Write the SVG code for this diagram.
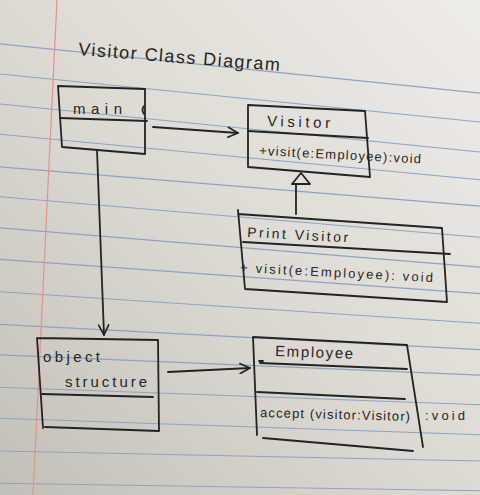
<svg xmlns="http://www.w3.org/2000/svg" width="480" height="495" viewBox="0 0 480 495">
<defs>
<linearGradient id="paper" x1="0" y1="1" x2="1" y2="0">
<stop offset="0" stop-color="#c4bfb6"/>
<stop offset="0.45" stop-color="#dcd8d1"/>
<stop offset="1" stop-color="#efede9"/>
</linearGradient>
<marker id="open" viewBox="0 0 12 12" refX="11" refY="6" markerWidth="12" markerHeight="12" markerUnits="userSpaceOnUse" orient="auto">
<path d="M1,1 L11,6 L1,11" fill="none" stroke="#222" stroke-width="1.6" stroke-linecap="round" stroke-linejoin="round"/>
</marker>
</defs>
<style>
.rule{stroke:#8ea2c6;stroke-width:1.1;fill:none}
.ink{stroke:#232323;stroke-width:1.8;fill:none;stroke-linecap:round;stroke-linejoin:round}
.t{font-family:"Liberation Sans","DejaVu Sans",sans-serif;fill:#262626}
</style>
<rect width="480" height="495" fill="url(#paper)"/>
<g id="ruling">
<path class="rule" d="M0,43.9 L480,93.1 M0,74 L480,122 M0,104 L480,152 M0,134.3 L480,179.7 M0,166.9 L480,206.1 M0,196.8 L480,237.2 M0,227.9 L480,267.1 M0,259.4 L480,293.6 M0,291.7 L480,323.3 M0,324.4 L480,349.6 M0,354.9 L480,375.1 M0,387.2 L480,404.8 M0,418.3 L480,434.7 M0,451 L480,461 M0,483.2 L480,490.8"/>
<path d="M57,0 L33,495" stroke="#e0948c" stroke-width="1.2" fill="none"/>
</g>
<text class="t" x="78" y="55" font-size="18" textLength="202" transform="rotate(4.5 78 55)">Visitor Class Diagram</text>
<g id="connectors">
<path class="ink" d="M153,127 L238,133" marker-end="url(#open)"/>
<path class="ink" d="M97,150 L104,335" marker-end="url(#open)"/>
<path class="ink" d="M168,372 L250,368" marker-end="url(#open)"/>
<path class="ink" d="M296,184 L296,214"/>
<path class="ink" d="M301,173 L292,184 L310,184 Z"/>
</g>
<g id="main">
<path class="ink" d="M58,86 L145,89 L145,154 L62,147 Z"/>
<path class="ink" d="M60,118 L147,121"/>
<path class="ink" d="M144,106 Q141,110 144,114"/>
<text class="t" x="73" y="114" font-size="15" textLength="49">main</text>
</g>
<g id="visitor">
<path class="ink" d="M248,105 L365,111 L370,177 L248,167 Z"/>
<path class="ink" d="M248,131 L368,138"/>
<text class="t" x="267" y="126" font-size="15" textLength="63" transform="rotate(2 267 126)">Visitor</text>
<text class="t" x="259" y="155" font-size="13" textLength="162" transform="rotate(3 259 155)">+visit(e:Employee):void</text>
</g>
<g id="printvisitor">
<path class="ink" d="M238,210 L245,289 L447,302 L442,228 L238,214"/>
<path class="ink" d="M243,242 L450,254"/>
<text class="t" x="247" y="237" font-size="14" textLength="101" transform="rotate(3 247 237)">Print Visitor</text>
<text class="t" x="240" y="272" font-size="13" textLength="193" transform="rotate(3 240 272)">+ visit(e:Employee): void</text>
</g>
<g id="objectstructure">
<path class="ink" d="M37,338 L158,340 L159,431 L45,427 M37,338 L43,428"/>
<path class="ink" d="M42,394 L153,397"/>
<text class="t" x="43" y="362" font-size="15" textLength="57">object</text>
<text class="t" x="65" y="387" font-size="15" textLength="82">structure</text>
</g>
<g id="employee">
<path class="ink" d="M253,337 L407,345 L423,447 M253,337 L257,435 M263,438 L413,451"/>
<path class="ink" d="M260,363 L407,369"/>
<path class="ink" d="M257,392 L405,399"/>
<path class="ink" d="M259,361 L263,361"/>
<text class="t" x="275" y="356" font-size="15" textLength="78" transform="rotate(2 275 356)">Employee</text>
<text class="t" x="260" y="417" font-size="13" textLength="150" transform="rotate(1.5 260 417)">accept (visitor:Visitor)</text>
<text class="t" x="425" y="420" font-size="13" textLength="40">:void</text>
</g>
</svg>
